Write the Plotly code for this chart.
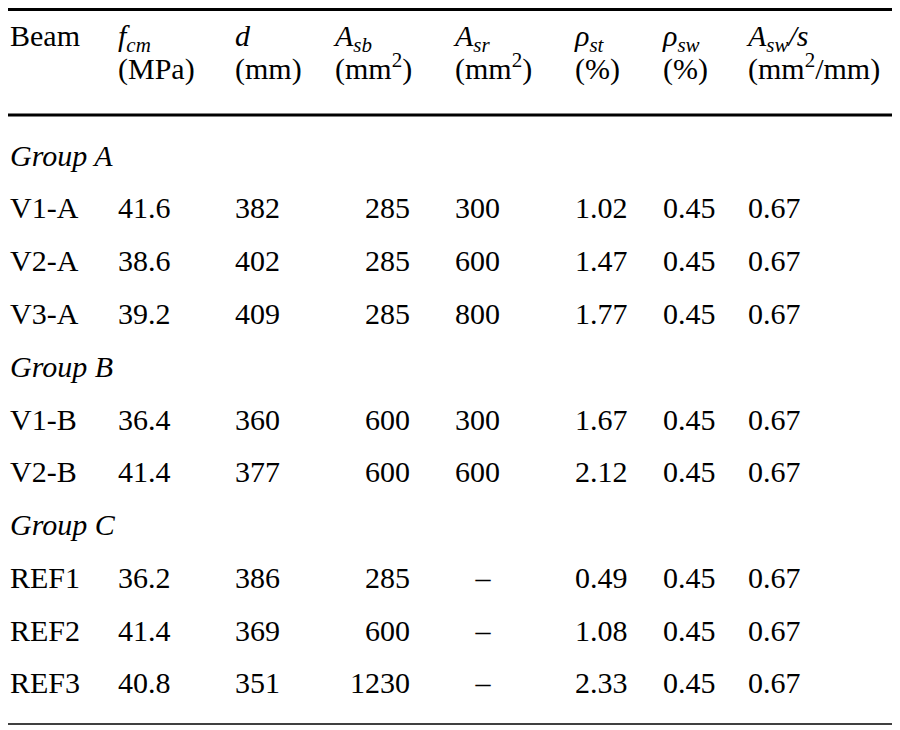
import plotly.graph_objects as go

# Table content
head_top = ["Beam", "<i>f</i><sub><i>cm</i></sub>", "<i>d</i>", "<i>A</i><sub><i>sb</i></sub>",
            "<i>A</i><sub><i>sr</i></sub>", "<i>ρ</i><sub><i>st</i></sub>", "<i>ρ</i><sub><i>sw</i></sub>",
            "<i>A</i><sub><i>sw</i></sub><i>/s</i>"]
head_units = ["", "(MPa)", "(mm)", "(mm<sup>2</sup>)", "(mm<sup>2</sup>)", "(%)", "(%)", "(mm<sup>2</sup>/mm)"]

groups = {0: "Group A", 4: "Group B", 7: "Group C"}
beams = ["V1-A", "V2-A", "V3-A", "V1-B", "V2-B", "REF1", "REF2", "REF3"]
fcm = ["41.6", "38.6", "39.2", "36.4", "41.4", "36.2", "41.4", "40.8"]
d = ["382", "402", "409", "360", "377", "386", "369", "351"]
asb = ["285", "285", "285", "600", "600", "285", "600", "1230"]
asr = ["300", "600", "800", "300", "600", "–", "–", "–"]
rho_st = ["1.02", "1.47", "1.77", "1.67", "2.12", "0.49", "1.08", "2.33"]
rho_sw = ["0.45"] * 8
asw_s = ["0.67"] * 8

# body row indices (group rows interleaved)
beam_rows = [1, 2, 3, 5, 6, 8, 9, 10]

# page has an 8px body margin, so positions are shifted left/up by 8
col_x = [2, 110, 227, 327, 447, 567, 655, 740]
font = dict(family="Liberation Serif", size=30, color="black")

fig = go.Figure()

# headers
fig.add_trace(go.Scatter(x=col_x, y=[-2.27] * 8, mode="text", text=head_top,
                         textposition="middle right", textfont=font, hoverinfo="skip"))
fig.add_trace(go.Scatter(x=col_x, y=[-1.63] * 8, mode="text", text=head_units,
                         textposition="middle right", textfont=font, hoverinfo="skip"))

# group labels
fig.add_trace(go.Scatter(x=[col_x[0]] * 3, y=list(groups.keys()), mode="text",
                         text=[f"<i>{g}</i>" for g in groups.values()],
                         textposition="middle right", textfont=font, hoverinfo="skip"))

# left-aligned columns
for i, col in [(0, beams), (1, fcm), (2, d), (5, rho_st), (6, rho_sw), (7, asw_s)]:
    fig.add_trace(go.Scatter(x=[col_x[i]] * len(col), y=beam_rows, mode="text", text=col,
                             textposition="middle right", textfont=font, hoverinfo="skip"))
# A_sb right-aligned
fig.add_trace(go.Scatter(x=[402] * 8, y=beam_rows, mode="text", text=asb,
                         textposition="middle left", textfont=font, hoverinfo="skip"))
# A_sr: numbers left, dashes centered
fig.add_trace(go.Scatter(x=[col_x[4] if v != "–" else 475 for v in asr], y=beam_rows, mode="text",
                         text=asr,
                         textposition=["middle right" if v != "–" else "middle center" for v in asr],
                         textfont=font, hoverinfo="skip"))


def py(p):
    return 1 - p / 730


fig.update_layout(
    width=900, height=730, margin=dict(l=0, r=0, t=0, b=0),
    plot_bgcolor="white", paper_bgcolor="white", showlegend=False,
    xaxis=dict(range=[0, 900], visible=False, fixedrange=True),
    yaxis=dict(range=[10.985, -2.841], visible=False, fixedrange=True),
    shapes=[
        dict(type="line", xref="paper", yref="paper", x0=0, x1=1, y0=py(1.5), y1=py(1.5),
             line=dict(color="black", width=3)),
        dict(type="line", xref="paper", yref="paper", x0=0, x1=1, y0=py(107), y1=py(107),
             line=dict(color="black", width=3)),
        dict(type="line", xref="paper", yref="paper", x0=0, x1=1, y0=py(716), y1=py(716),
             line=dict(color="black", width=1.5)),
    ],
)

fig.write_html("out.html")
